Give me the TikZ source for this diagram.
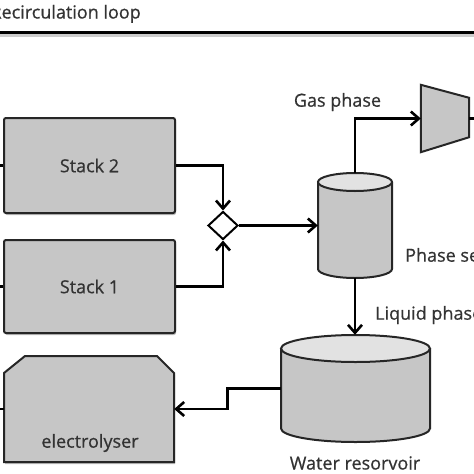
\documentclass[tikz,border=0pt]{standalone}
\usepackage{fontspec}
\setmainfont{Open Sans}
\newfontfamily\flowfont{Open Sans}[FakeBold=0.7]
\usetikzlibrary{shapes.geometric, arrows.meta, shadows}
\definecolor{unitgray}{HTML}{C6C6C6}
\definecolor{lidgray}{HTML}{E2E2E2}
\definecolor{textgray}{HTML}{333333}

\tikzset{
  unit/.style={draw=black!85, line width=2pt, fill=unitgray},
  softshadow/.style={drop shadow={shadow xshift=1pt, shadow yshift=-2pt, fill=black, opacity=0.25}},
  pipe/.style={line width=2.8pt},
  flow/.style={pipe, -{Straight Barb[length=8pt, width=14pt, line width=2.6pt]}},
  flowtext/.style={text=textgray, font=\flowfont\fontsize{18}{21}\selectfont, inner sep=0pt},
  place/.style={inner sep=0pt, draw=none},
}

\begin{document}
\begin{tikzpicture}[x=1pt, y=-1pt]
\useasboundingbox (0,0) rectangle (474,474);
\clip (0,0) rectangle (474,474);

% -------------------------
% Title bar
% -------------------------
\node[flowtext, anchor=base east] (title) at (141,18.5) {Recirculation loop};
\draw[line width=4pt, black!20] (0,35) -- (474,35);
\draw[line width=3pt] (0,32) -- (474,32);

% -------------------------
% Stacks and electrolyser
% -------------------------
\node[unit, softshadow, rounded corners=2pt, flowtext, minimum width=171pt, minimum height=95pt] (stack2) at (89.5,165.5) {Stack 2};
\node[unit, softshadow, rounded corners=2pt, flowtext, minimum width=171pt, minimum height=93pt] (stack1) at (89.5,286.5) {Stack 1};

\node[place, minimum width=170pt, minimum height=106pt] (elec) at (89,409) {};
\draw[unit, softshadow] (4,373) -- (25,356) -- (157,356) -- (174,373) -- (174,462) -- (4,462) -- cycle;
\node[flowtext] (elecname) at (90,443) {electrolyser};

% feed lines from the left
\coordinate (in2) at (-10,165.5);
\coordinate (in1) at (-10,286.5);
\coordinate (inE) at (-10,409);
\draw[pipe] (stack2.west) -- (in2);
\draw[pipe] (stack1.west) -- (in1);
\draw[pipe] (elec.west) -- (inE);

% -------------------------
% Mixer
% -------------------------
\node[diamond, draw=black, fill=white, line width=2pt, minimum width=30pt, minimum height=28pt, inner sep=0pt] (mix) at (223,225.5) {};

% -------------------------
% Phase separator
% -------------------------
\node[place, minimum width=74pt, minimum height=105pt] (sep) at (355,225.5) {};
\fill[unitgray] (318,182) -- (318,269) arc[start angle=180, end angle=360, x radius=37pt, y radius=9pt] -- (392,182) -- cycle;
\draw[line width=2pt, black!85] (318,182) -- (318,269) arc[start angle=180, end angle=360, x radius=37pt, y radius=9pt] -- (392,182);
\draw[line width=2pt, black!85, fill=lidgray] (355,182) ellipse[x radius=37pt, y radius=9pt];
\node[flowtext, anchor=west] (septext) at (405,257) {Phase separator};

% -------------------------
% Compressor
% -------------------------
\node[place, minimum width=48pt, minimum height=67pt] (comp) at (445,118.5) {};
\draw[unit] (comp.north west) -- ([yshift=-13pt]comp.north east) -- ([yshift=15pt]comp.south east) -- (comp.south west) -- cycle;
\coordinate (out) at (490,118.5);

% -------------------------
% Water reservoir
% -------------------------
\node[place, minimum width=149pt, minimum height=107pt] (res) at (355.5,388.5) {};
\fill[unitgray] (281,348.5) -- (281,428.5) arc[start angle=180, end angle=360, x radius=74.5pt, y radius=13.5pt] -- (430,348.5) -- cycle;
\draw[line width=2pt, black!85] (281,348.5) -- (281,428.5) arc[start angle=180, end angle=360, x radius=74.5pt, y radius=13.5pt] -- (430,348.5);
\draw[line width=2pt, black!85, fill=lidgray] (355.5,348.5) ellipse[x radius=74.5pt, y radius=13.5pt];
\node[flowtext] (restext) at (355,463) {Water resorvoir};

% -------------------------
% Flow labels
% -------------------------
\node[flowtext] (gas) at (337.5,102) {Gas phase};
\node[flowtext, anchor=west] (liquid) at (375,315) {Liquid phase};

% -------------------------
% Connections
% -------------------------
\draw[flow] (stack2.east) -| (mix.north);
\draw[flow] (stack1.east) -| (mix.south);
\draw[flow] (mix.east) -- (sep.west);
\draw[flow] (sep.north) |- (comp.west);
\draw[pipe] (comp.east) -- (out);
\draw[flow] (sep.south) -- (sep.south |- res.north);
\draw[flow] (res.west) -- ++(-53,0) |- (elec.east);

\end{tikzpicture}
\end{document}
